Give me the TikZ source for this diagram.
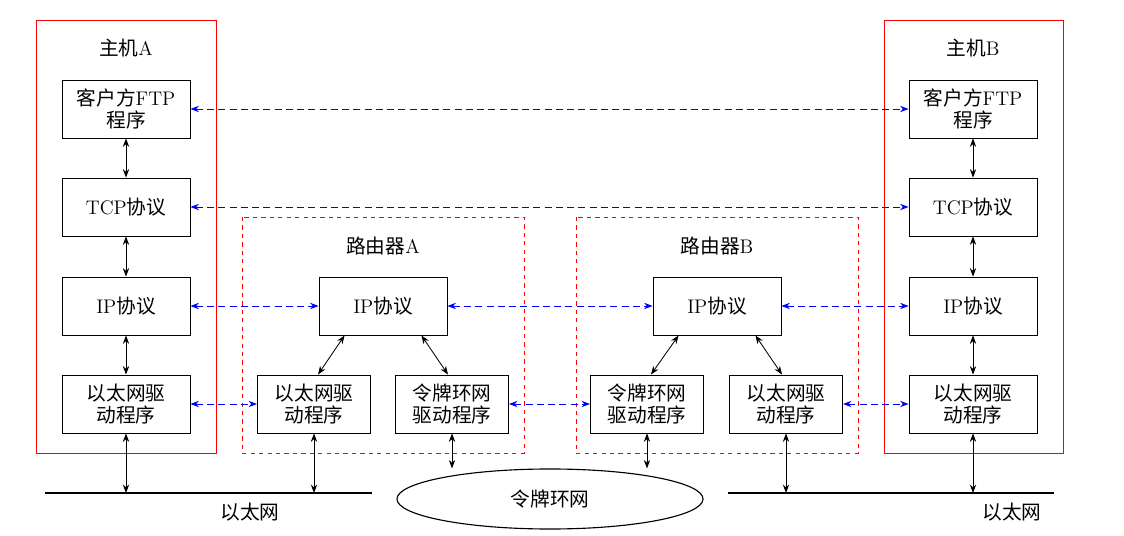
\documentclass[tikz,border=0pt]{standalone}
\usepackage{fontspec}
\newfontfamily\cjk{Noto Sans CJK SC}
\newcommand{\zh}[1]{{\cjk #1}}
\usetikzlibrary{arrows.meta,shapes.geometric}
\tikzset{
  box/.style={draw, minimum width=3.2cm, minimum height=1.45cm, align=center, inner sep=1pt, font=\fontsize{14}{16}\selectfont},
  sbox/.style={box, minimum width=2.83cm},
  link/.style={{Stealth[length=6pt]}-{Stealth[length=6pt]}},
  peer/.style={link, blue, dash pattern=on 5pt off 3pt},
  lbl/.style={font=\fontsize{14}{16}\selectfont}
}
\begin{document}
\begin{tikzpicture}[x=0.025cm, y=-0.025cm, semithick]
		\useasboundingbox (0,0) rectangle (1124,536);
		% hosts and routers
		\draw[red] (36,20) rectangle (216,453);
		\draw[red] (884,20) rectangle (1063,453);
		\draw[red, dashed] (242,217) rectangle (524,453);
		\draw[red, dashed] (576,217) rectangle (858,453);
		\node[lbl] (ha) at (126,48) {\zh{主机}A};
		\node[lbl] (hb) at (973,48) {\zh{主机}B};
		\node[lbl] (ra) at (383,246) {\zh{路由器}A};
		\node[lbl] (rb) at (717,246) {\zh{路由器}B};
		% host A
		\node[box] (ftpA) at (126,109) {\zh{客户方}FTP\\\zh{程序}};
		\node[box] (tcpA) at (126,207) {TCP\zh{协议}};
		\node[box] (ipA) at (126,306) {IP\zh{协议}};
		\node[box] (ethA) at (126,404) {\zh{以太网驱}\\\zh{动程序}};
		% host B
		\node[box] (ftpB) at (973,109) {\zh{客户方}FTP\\\zh{程序}};
		\node[box] (tcpB) at (973,207) {TCP\zh{协议}};
		\node[box] (ipB) at (973,306) {IP\zh{协议}};
		\node[box] (ethB) at (973,404) {\zh{以太网驱}\\\zh{动程序}};
		% router A
		\node[box] (ipRA) at (383,306) {IP\zh{协议}};
		\node[sbox] (ethRA) at (314,404) {\zh{以太网驱}\\\zh{动程序}};
		\node[sbox] (tokRA) at (452,404) {\zh{令牌环网}\\\zh{驱动程序}};
		% router B
		\node[box] (ipRB) at (717,306) {IP\zh{协议}};
		\node[sbox] (tokRB) at (647,404) {\zh{令牌环网}\\\zh{驱动程序}};
		\node[sbox] (ethRB) at (786,404) {\zh{以太网驱}\\\zh{动程序}};
		% networks
		\draw[line width=1.8pt] (45,493) -- (372,493);
		\draw[line width=1.8pt] (728,493) -- (1054,493);
		\node[lbl] (lanA) at (250,512) {\zh{以太网}};
		\node[lbl] (lanB) at (1012,512) {\zh{以太网}};
		\node[draw, thick, ellipse, minimum width=7.65cm, minimum height=1.5cm, lbl] (ring) at (550,499) {\zh{令牌环网}};
		\coordinate (pA) at (126,493);
		\coordinate (pRA) at (314,493);
		\coordinate (pRB) at (786,493);
		\coordinate (pB) at (973,493);
		% stacks
		\draw[link] (ftpA) -- (tcpA);
		\draw[link] (tcpA) -- (ipA);
		\draw[link] (ipA) -- (ethA);
		\draw[link] (ftpB) -- (tcpB);
		\draw[link] (tcpB) -- (ipB);
		\draw[link] (ipB) -- (ethB);
		\draw[link] ([xshift=0.65cm]ipRA.south west) -- ([xshift=0.1cm]ethRA.north);
		\draw[link] ([xshift=-0.65cm]ipRA.south east) -- ([xshift=-0.1cm]tokRA.north);
		\draw[link] ([xshift=0.65cm]ipRB.south west) -- ([xshift=0.1cm]tokRB.north);
		\draw[link] ([xshift=-0.65cm]ipRB.south east) -- ([xshift=-0.1cm]ethRB.north);
		\draw[link] (ethA) -- (pA);
		\draw[link] (ethRA) -- (pRA);
		\draw[link] (tokRA) -- (tokRA |- ring.north);
		\draw[link] (tokRB) -- (tokRB |- ring.north);
		\draw[link] (ethRB) -- (pRB);
		\draw[link] (ethB) -- (pB);
		% peers
		\draw[peer] (ftpA) -- (ftpB);
		\draw[peer] (tcpA) -- (tcpB);
		\draw[peer] (ipA) -- (ipRA);
		\draw[peer] (ipRA) -- (ipRB);
		\draw[peer] (ipRB) -- (ipB);
		\draw[peer] (ethA) -- (ethRA);
		\draw[peer] (tokRA) -- (tokRB);
		\draw[peer] (ethRB) -- (ethB);
\end{tikzpicture}
\end{document}
